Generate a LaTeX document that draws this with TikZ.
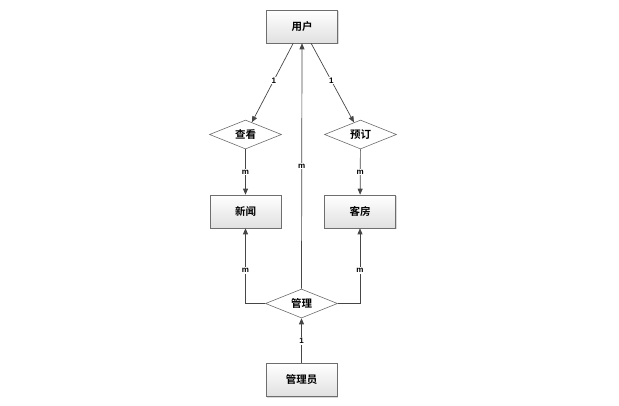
\documentclass[tikz,border=0pt]{standalone}
\usepackage{fontspec}
\newfontfamily\cjk{Noto Sans CJK SC}[BoldFont={Noto Sans CJK SC Bold}]
\setsansfont{Liberation Sans}
\usetikzlibrary{shapes.geometric,arrows.meta,shadows}
\definecolor{ln}{RGB}{70,70,70}
\definecolor{bd}{RGB}{110,110,110}
\tikzset{
  entity/.style={rectangle, draw=bd, line width=0.6pt, minimum width=71pt, minimum height=33pt,
    top color=white, bottom color=black!12, drop shadow={shadow xshift=1.2pt, shadow yshift=-1.2pt, fill=black!25, opacity=0.6},
    font=\cjk\bfseries\fontsize{10.5}{11}\selectfont, inner sep=0pt},
  rel/.style={diamond, draw=bd, line width=0.6pt, aspect=2.45, minimum width=72pt, minimum height=29pt,
    fill=white, font=\cjk\bfseries\fontsize{10.5}{11}\selectfont, inner sep=0pt},
  conn/.style={draw=ln, line width=0.7pt, -{Triangle[length=6pt,width=5pt]}},
  lab/.style={font=\sffamily\bfseries\fontsize{8}{9}\selectfont, fill=white, inner sep=1pt, text=black}
}
\begin{document}
\begin{tikzpicture}[x=1pt,y=-1pt]
\useasboundingbox (0,0) rectangle (619,405);
\node[entity] (user) at (302,26.5) {用户};
\node[rel] (view) at (245.5,134.5) {查看};
\node[rel] (book) at (360.5,134.5) {预订};
\node[entity] (news) at (245.5,211.5) {新闻};
\node[entity] (room) at (360,211.5) {客房};
\node[rel] (manage) at (301.5,303.5) {管理};
\node[entity] (admin) at (301.5,380) {管理员};
\draw[conn] (user) -- node[lab, pos=0.47] {1} (view);
\draw[conn] (user) -- node[lab, pos=0.47] {1} (book);
\draw[conn] (view) -- node[lab] {m} (news);
\draw[conn] (book) -- node[lab] {m} (room);
\draw[conn] (manage.north) -- node[lab, pos=0.5] {m} (user.south);
\draw[conn] (manage.west) -| node[lab, pos=0.72] {m} (news.south);
\draw[conn] (manage.east) -| node[lab, pos=0.72] {m} (room.south);
\draw[conn] (admin.north) -- node[lab] {1} (manage.south);
\end{tikzpicture}
\end{document}
